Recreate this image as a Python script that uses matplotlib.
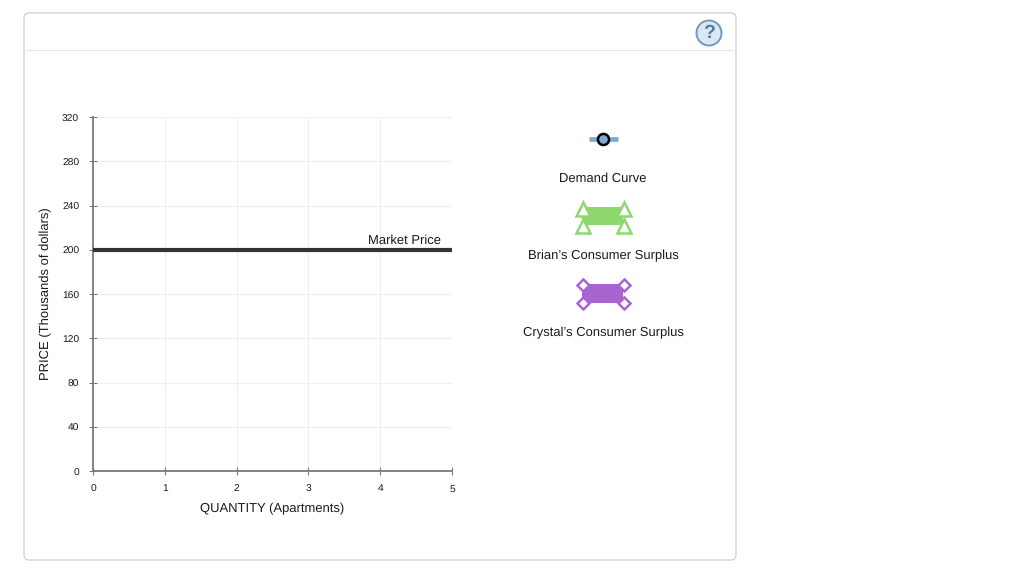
#!/usr/bin/env python3
"""Market price diagram with the legend palette on the right."""
import matplotlib
matplotlib.use("Agg")
import matplotlib.pyplot as plt
from matplotlib.patches import Circle, FancyBboxPatch, Rectangle
from matplotlib.transforms import ScaledTranslation

plt.rcParams["font.family"] = ["Liberation Sans", "DejaVu Sans"]
plt.rcParams["text.hinting"] = "none"

W, H = 1024, 584

x_ticks = [0, 1, 2, 3, 4, 5]
y_ticks = [0, 40, 80, 120, 160, 200, 240, 280, 320]
price_x = [0, 5]
price_y = [200, 200]
price_label = "Market Price"
legend_labels = ["Demand Curve", "Brian\u2019s Consumer Surplus", "Crystal\u2019s Consumer Surplus"]

TEXT = "#1a1a1a"
AXIS = "#7a7a7a"
GRID = "#efefef"
BLUE = "#7fa9d3"
GREEN = "#8fd870"
PURPLE = "#a865cf"
LABEL_SIZE = 9.4

fig = plt.figure(figsize=(W / 100, H / 100), dpi=100, facecolor="white")

# pixel-space layer for the frame and the legend palette
bg = fig.add_axes([0, 0, 1, 1])
bg.set_xlim(0, W)
bg.set_ylim(H, 0)
bg.axis("off")

bg.add_patch(FancyBboxPatch((27, 16), 706, 541, boxstyle="round,pad=3,rounding_size=5",
                            fc="white", ec="#cfcfcf", lw=0.9))
bg.plot([27, 733], [50, 50], color="#e6e6e6", lw=0.8)
bg.add_patch(Circle((709, 33), 12.5, fc="#dce7f1", ec="#6f9abf", lw=1.4))
bg.text(709, 33, "?", ha="center", va="center", fontsize=14, fontweight="bold", color="#4f7fa8")

# legend: demand curve
bg.plot([589, 618], [139, 139], color=BLUE, lw=3.4, solid_capstyle="butt")
bg.plot([603], [139], "o", ms=8, mfc=BLUE, mec="black", mew=1.8)
bg.text(603, 178.5, legend_labels[0], ha="center", va="center", fontsize=LABEL_SIZE, color=TEXT)

# legend: Brian's surplus
bg.add_patch(Rectangle((582, 207), 41, 18, fc=GREEN, ec="none"))
for px in (583, 624):
    for py in (209, 226):
        bg.plot([px], [py], "^", ms=9.5, mfc="white", mec=GREEN, mew=1.8)
bg.text(603, 256, legend_labels[1], ha="center", va="center", fontsize=LABEL_SIZE, color=TEXT)

# legend: Crystal's surplus
bg.add_patch(Rectangle((582, 284), 41, 19, fc=PURPLE, ec="none"))
for px in (583, 624):
    for py in (285, 303):
        bg.plot([px], [py], "D", ms=6.5, mfc="white", mec=PURPLE, mew=1.8)
bg.text(603, 333, legend_labels[2], ha="center", va="center", fontsize=LABEL_SIZE, color=TEXT)

# main chart
ax = fig.add_axes([93 / W, (H - 471) / H, 359 / W, 354 / H])
ax.patch.set_alpha(0)
ax.set_xlim(0, 5)
ax.set_ylim(0, 320)
ax.set_xticks(x_ticks)
ax.set_yticks(y_ticks)
ax.grid(True, color=GRID, lw=0.8)
ax.set_axisbelow(True)
for side in ("top", "right"):
    ax.spines[side].set_visible(False)
for side in ("left", "bottom"):
    ax.spines[side].set_color(AXIS)
    ax.spines[side].set_linewidth(1.3)
ax.tick_params(axis="both", direction="inout", length=6, width=0.8, color=AXIS,
               labelsize=7.4, labelcolor=TEXT)
ax.tick_params(axis="x", pad=6.5)
ax.tick_params(axis="y", pad=7)
# nudge the y tick labels down a pixel
nudge = ScaledTranslation(0, -1 / 100, fig.dpi_scale_trans)
for t in ax.get_yticklabels():
    t.set_transform(t.get_transform() + nudge)
ax.set_xlabel("QUANTITY (Apartments)", fontsize=LABEL_SIZE, color=TEXT, labelpad=7)
ax.set_ylabel("PRICE (Thousands of dollars)", fontsize=LABEL_SIZE, color=TEXT, labelpad=7)

ax.plot(price_x, price_y, color="#333333", lw=3.0, solid_capstyle="butt", clip_on=False, zorder=3)
ax.text(4.85, 203, price_label, ha="right", va="bottom", fontsize=LABEL_SIZE, color=TEXT)

fig.savefig("out.png", dpi=100)
